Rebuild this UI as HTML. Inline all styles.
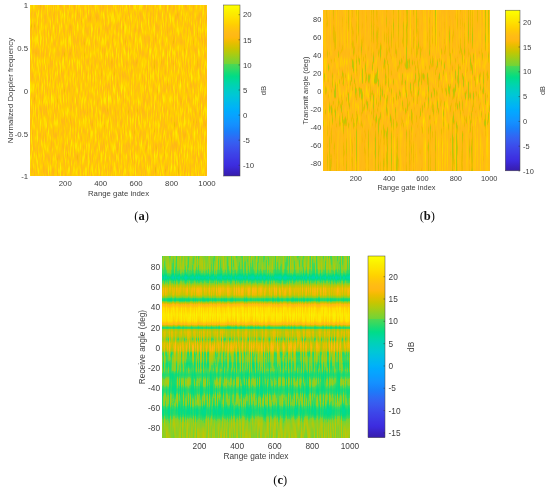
<!DOCTYPE html>
<html><head><meta charset="utf-8"><title>Figure</title>
<style>html,body{margin:0;padding:0;background:#fff}svg{display:block}text{font-family:"Liberation Sans",Arial,sans-serif;fill:#404040}</style>
</head><body>
<svg width="550" height="491" viewBox="0 0 550 491">
<defs>
<linearGradient id="pg" x1="0" y1="0" x2="0" y2="1"><stop offset="0.0000" stop-color="#feff00"/><stop offset="0.0127" stop-color="#fdfb00"/><stop offset="0.0253" stop-color="#fcf600"/><stop offset="0.0380" stop-color="#fcf000"/><stop offset="0.0506" stop-color="#fceb00"/><stop offset="0.0633" stop-color="#fde600"/><stop offset="0.0759" stop-color="#ffe000"/><stop offset="0.0886" stop-color="#ffda00"/><stop offset="0.1013" stop-color="#ffd500"/><stop offset="0.1139" stop-color="#ffcf02"/><stop offset="0.1266" stop-color="#ffc907"/><stop offset="0.1392" stop-color="#ffc40c"/><stop offset="0.1519" stop-color="#ffbf11"/><stop offset="0.1646" stop-color="#ffbb15"/><stop offset="0.1772" stop-color="#ffb915"/><stop offset="0.1899" stop-color="#ffb90e"/><stop offset="0.2025" stop-color="#f7bb06"/><stop offset="0.2152" stop-color="#edbd00"/><stop offset="0.2278" stop-color="#e2bf00"/><stop offset="0.2405" stop-color="#d7c200"/><stop offset="0.2532" stop-color="#ccc400"/><stop offset="0.2658" stop-color="#bfc705"/><stop offset="0.2785" stop-color="#b3ca0c"/><stop offset="0.2911" stop-color="#a6cc14"/><stop offset="0.3038" stop-color="#99ce1d"/><stop offset="0.3165" stop-color="#8cd026"/><stop offset="0.3291" stop-color="#80d22e"/><stop offset="0.3418" stop-color="#74d435"/><stop offset="0.3455" stop-color="#70d437"/><stop offset="0.3465" stop-color="#4ed753"/><stop offset="0.3544" stop-color="#46d857"/><stop offset="0.3671" stop-color="#39d95f"/><stop offset="0.3797" stop-color="#2bda68"/><stop offset="0.3924" stop-color="#1bdb72"/><stop offset="0.4051" stop-color="#0ddc7c"/><stop offset="0.4177" stop-color="#01dc87"/><stop offset="0.4304" stop-color="#00da92"/><stop offset="0.4430" stop-color="#00d89d"/><stop offset="0.4557" stop-color="#00d6a7"/><stop offset="0.4684" stop-color="#00d3b1"/><stop offset="0.4810" stop-color="#00d0ba"/><stop offset="0.4937" stop-color="#00cec2"/><stop offset="0.5063" stop-color="#00cbca"/><stop offset="0.5190" stop-color="#00c9d1"/><stop offset="0.5316" stop-color="#00c6d8"/><stop offset="0.5443" stop-color="#00c2de"/><stop offset="0.5570" stop-color="#00bfe4"/><stop offset="0.5696" stop-color="#00bbea"/><stop offset="0.5823" stop-color="#00b7ef"/><stop offset="0.5949" stop-color="#00b4f5"/><stop offset="0.6076" stop-color="#00b0f9"/><stop offset="0.6203" stop-color="#00abfc"/><stop offset="0.6329" stop-color="#04a7ff"/><stop offset="0.6456" stop-color="#07a3ff"/><stop offset="0.6582" stop-color="#099fff"/><stop offset="0.6709" stop-color="#0d9aff"/><stop offset="0.6835" stop-color="#1196ff"/><stop offset="0.6962" stop-color="#1491ff"/><stop offset="0.7089" stop-color="#158cfe"/><stop offset="0.7215" stop-color="#1786fc"/><stop offset="0.7342" stop-color="#1980fa"/><stop offset="0.7468" stop-color="#1e7af9"/><stop offset="0.7595" stop-color="#2474f7"/><stop offset="0.7722" stop-color="#2b6df5"/><stop offset="0.7848" stop-color="#3067f3"/><stop offset="0.7975" stop-color="#3461f2"/><stop offset="0.8101" stop-color="#375cf0"/><stop offset="0.8228" stop-color="#3957ee"/><stop offset="0.8354" stop-color="#3a51ed"/><stop offset="0.8481" stop-color="#3c4ceb"/><stop offset="0.8608" stop-color="#3c47e9"/><stop offset="0.8734" stop-color="#3d42e7"/><stop offset="0.8861" stop-color="#3d3ee6"/><stop offset="0.8987" stop-color="#3d39e4"/><stop offset="0.9114" stop-color="#3d34e2"/><stop offset="0.9241" stop-color="#3d30e1"/><stop offset="0.9367" stop-color="#3c2cdf"/><stop offset="0.9494" stop-color="#3b29d6"/><stop offset="0.9620" stop-color="#3a25cb"/><stop offset="0.9747" stop-color="#3922c0"/><stop offset="0.9873" stop-color="#381fb6"/><stop offset="1.0000" stop-color="#361dab"/></linearGradient>
<filter id="fa" x="0" y="0" width="1" height="1" color-interpolation-filters="sRGB"><feTurbulence type="fractalNoise" baseFrequency="0.7 0.085" numOctaves="2" seed="3"/><feColorMatrix type="matrix" values="1 0 0 0 0 1 0 0 0 0 1 0 0 0 0 0 0 0 0 1"/><feComponentTransfer><feFuncR type="table" tableValues="0.812 0.815 0.819 0.822 0.826 0.83 0.833 0.837 0.84 0.844 0.848 0.851 0.854 0.858 0.861 0.864 0.868 0.871 0.874 0.878 0.881 0.884 0.888 0.891 0.894 0.898 0.901 0.904 0.907 0.911 0.914 0.917 0.92 0.923 0.926 0.929 0.932 0.935 0.938 0.941 0.945 0.948 0.951 0.954 0.957 0.959 0.962 0.965 0.968 0.97 0.973 0.976 0.978 0.981 0.984 0.987 0.989 0.992 0.995 0.997 1 1 1 1 1 1 1 1 1 1 1 1 1 1 1 1 1 1 1 1 1 1 1 1 1 1 1 1 1 1 1 1 1 1 1 1 1 1 1 1 1 1 1 1 1 1 1 1 1 1 1 1 1 1 1 1 1 1 1 1 1 1 1 1 1 1 1 1 1 1 1 1 1 1 1 1 1 1 1 1 1 1 1 1 1 1 1 1 1 1 1 1 1 1 1 1 1 1 1 1 1 1 1 1 1 1 1 1 1 1 1 1 1 1 1 1 1 1 1 1 1 1 1 1 0.999 0.998 0.997 0.996 0.996 0.995 0.994 0.994 0.993 0.993 0.992 0.992 0.992 0.991 0.991 0.99 0.99 0.989 0.989 0.989 0.988 0.988 0.987 0.987 0.987 0.987 0.987 0.987 0.987 0.987 0.987 0.987 0.987 0.987 0.987 0.987 0.987 0.986 0.986 0.986 0.987 0.987 0.987 0.987 0.987 0.988 0.988 0.988 0.988 0.988 0.989 0.989 0.989 0.989 0.989 0.99 0.99 0.99 0.991 0.991 0.991 0.992 0.992 0.992 0.993 0.993 0.993 0.994 0.994 0.994 0.994 0.995"/><feFuncG type="table" tableValues="0.767 0.766 0.765 0.764 0.764 0.763 0.762 0.761 0.76 0.76 0.759 0.758 0.757 0.756 0.756 0.755 0.754 0.753 0.753 0.752 0.751 0.75 0.749 0.749 0.748 0.747 0.746 0.746 0.745 0.744 0.743 0.743 0.742 0.741 0.741 0.74 0.739 0.739 0.738 0.737 0.737 0.736 0.735 0.735 0.734 0.734 0.733 0.733 0.732 0.732 0.731 0.731 0.73 0.73 0.729 0.729 0.728 0.728 0.728 0.727 0.727 0.727 0.726 0.726 0.726 0.726 0.726 0.726 0.726 0.726 0.726 0.725 0.725 0.725 0.725 0.725 0.725 0.725 0.726 0.727 0.728 0.729 0.73 0.73 0.731 0.732 0.733 0.734 0.734 0.735 0.736 0.737 0.738 0.739 0.74 0.742 0.743 0.745 0.746 0.748 0.749 0.751 0.753 0.754 0.756 0.757 0.759 0.76 0.762 0.763 0.765 0.766 0.768 0.77 0.771 0.773 0.774 0.776 0.777 0.779 0.781 0.782 0.784 0.785 0.787 0.789 0.79 0.792 0.794 0.795 0.797 0.799 0.8 0.802 0.804 0.805 0.807 0.809 0.81 0.812 0.814 0.815 0.817 0.819 0.82 0.822 0.824 0.826 0.827 0.829 0.831 0.833 0.834 0.836 0.838 0.839 0.841 0.843 0.845 0.846 0.848 0.85 0.852 0.853 0.855 0.857 0.859 0.86 0.862 0.864 0.866 0.867 0.869 0.871 0.873 0.874 0.876 0.878 0.88 0.881 0.883 0.885 0.886 0.888 0.89 0.892 0.893 0.895 0.897 0.898 0.9 0.902 0.903 0.905 0.907 0.908 0.91 0.912 0.913 0.915 0.917 0.918 0.92 0.922 0.923 0.925 0.927 0.928 0.93 0.932 0.933 0.935 0.936 0.938 0.94 0.941 0.943 0.944 0.946 0.948 0.949 0.951 0.952 0.954 0.956 0.957 0.959 0.96 0.962 0.963 0.965 0.966 0.968 0.97 0.971 0.973 0.974 0.976 0.977 0.979 0.98 0.982 0.984 0.985 0.987 0.988 0.99 0.991 0.993 0.995 0.996 0.998 0.999 1 1 1"/><feFuncB type="table" tableValues="0 0 0 0 0 0 0 0 0 0 0 0 0 0 0 0 0 0 0 0 0 0 0 0 0 0 0 0 0 0 0 0 0 0 0 0 0.002 0.003 0.004 0.006 0.007 0.008 0.01 0.011 0.013 0.015 0.018 0.02 0.023 0.025 0.027 0.03 0.032 0.035 0.037 0.04 0.042 0.045 0.047 0.05 0.052 0.054 0.056 0.059 0.061 0.063 0.065 0.067 0.069 0.072 0.074 0.076 0.078 0.08 0.082 0.085 0.087 0.087 0.087 0.086 0.086 0.085 0.085 0.084 0.084 0.084 0.083 0.083 0.082 0.082 0.081 0.081 0.08 0.079 0.078 0.076 0.075 0.073 0.071 0.07 0.068 0.066 0.065 0.063 0.061 0.06 0.058 0.056 0.055 0.053 0.051 0.05 0.048 0.046 0.045 0.043 0.041 0.04 0.038 0.037 0.035 0.033 0.032 0.03 0.028 0.027 0.025 0.024 0.022 0.021 0.02 0.018 0.017 0.015 0.014 0.012 0.011 0.01 0.008 0.007 0.005 0.004 0.003 0.001 0 0 0 0 0 0 0 0 0 0 0 0 0 0 0 0 0 0 0 0 0 0 0 0 0 0 0 0 0 0 0 0 0 0 0 0 0 0 0 0 0 0 0 0 0 0 0 0 0 0 0 0 0 0 0 0 0 0 0 0 0 0 0 0 0 0 0 0 0 0 0 0 0 0 0 0 0 0 0 0 0 0 0 0 0 0 0 0 0 0 0 0 0 0 0 0 0 0 0 0 0 0 0 0 0 0 0 0 0 0 0 0"/></feComponentTransfer></filter>
<linearGradient id="gb" x1="0" y1="0" x2="0" y2="1"><stop offset="0" stop-color="#383838"/><stop offset="0.2" stop-color="#474747"/><stop offset="0.3" stop-color="#d8d8d8"/><stop offset="0.5" stop-color="#ffffff"/><stop offset="0.7" stop-color="#d8d8d8"/><stop offset="0.8" stop-color="#474747"/><stop offset="1" stop-color="#383838"/></linearGradient>
<filter id="fb" x="0" y="0" width="1" height="1" color-interpolation-filters="sRGB"><feTurbulence type="fractalNoise" baseFrequency="0.6 0.07" numOctaves="2" seed="7"/><feColorMatrix type="matrix" values="1 0 0 0 0 1 0 0 0 0 1 0 0 0 0 0 0 0 0 1" result="a"/><feComposite in="SourceGraphic" in2="a" operator="arithmetic" k1="1" k2="-0.5" k3="0" k4="0.5" result="r1"/><feTurbulence type="fractalNoise" baseFrequency="0.6 0.005" numOctaves="2" seed="21"/><feColorMatrix type="matrix" values="1 0 0 0 0 1 0 0 0 0 1 0 0 0 0 0 0 0 0 1" result="b"/><feComponentTransfer in="SourceGraphic" result="mi"><feFuncR type="linear" slope="-1" intercept="1.12"/><feFuncG type="linear" slope="-1" intercept="1.12"/><feFuncB type="linear" slope="-1" intercept="1.12"/></feComponentTransfer><feComposite in="mi" in2="b" operator="arithmetic" k1="1" k2="-0.5" k3="0" k4="0.5" result="r2"/><feComposite in="r1" in2="r2" operator="arithmetic" k1="0" k2="1" k3="1" k4="-0.5"/><feComponentTransfer><feFuncR type="table" tableValues="0.719 0.719 0.719 0.719 0.719 0.719 0.719 0.719 0.719 0.719 0.719 0.719 0.719 0.719 0.719 0.719 0.719 0.719 0.719 0.719 0.719 0.719 0.719 0.719 0.719 0.719 0.719 0.719 0.719 0.719 0.719 0.719 0.719 0.719 0.719 0.719 0.719 0.719 0.719 0.719 0.719 0.719 0.719 0.719 0.719 0.719 0.719 0.719 0.719 0.719 0.719 0.719 0.719 0.719 0.719 0.719 0.719 0.719 0.719 0.719 0.719 0.719 0.719 0.719 0.719 0.719 0.719 0.719 0.719 0.719 0.719 0.72 0.729 0.737 0.745 0.754 0.762 0.771 0.779 0.787 0.795 0.803 0.811 0.819 0.827 0.835 0.843 0.851 0.858 0.866 0.873 0.881 0.888 0.895 0.903 0.91 0.917 0.923 0.93 0.937 0.944 0.951 0.958 0.964 0.97 0.976 0.982 0.988 0.994 1 1 1 1 1 1 1 1 1 1 1 1 1 1 1 1 1 1 1 1 1 1 1 1 1 1 1 1 1 1 1 1 1 1 1 1 1 1 1 1 1 1 1 1 1 1 1 1 1 1 1 1 1 1 1 1 1 1 1 1 1 1 1 1 1 1 1 1 1 1 1 1 1 1 1 1 1 1 1 1 1 1 1 1 1 1 1 1 1 1 1 1 1 1 1 1 1 1 1 1 1 1 1 1 1 1 1 1 1 1 1 1 1 1 1 1 1 1 0.999 0.999 0.998 0.997 0.996 0.995 0.995 0.994 0.993 0.993 0.993 0.992 0.992 0.991 0.991 0.991 0.99 0.99 0.989 0.989 0.989 0.988 0.988 0.987 0.987 0.987 0.987 0.987 0.987"/><feFuncG type="table" tableValues="0.787 0.787 0.787 0.787 0.787 0.787 0.787 0.787 0.787 0.787 0.787 0.787 0.787 0.787 0.787 0.787 0.787 0.787 0.787 0.787 0.787 0.787 0.787 0.787 0.787 0.787 0.787 0.787 0.787 0.787 0.787 0.787 0.787 0.787 0.787 0.787 0.787 0.787 0.787 0.787 0.787 0.787 0.787 0.787 0.787 0.787 0.787 0.787 0.787 0.787 0.787 0.787 0.787 0.787 0.787 0.787 0.787 0.787 0.787 0.787 0.787 0.787 0.787 0.787 0.787 0.787 0.787 0.787 0.787 0.787 0.787 0.786 0.785 0.783 0.781 0.779 0.778 0.776 0.774 0.772 0.771 0.769 0.767 0.765 0.763 0.762 0.76 0.758 0.756 0.755 0.753 0.751 0.749 0.748 0.746 0.744 0.743 0.741 0.74 0.738 0.737 0.735 0.734 0.733 0.732 0.731 0.73 0.729 0.728 0.727 0.726 0.726 0.726 0.726 0.725 0.725 0.725 0.725 0.725 0.725 0.726 0.727 0.728 0.729 0.729 0.73 0.731 0.732 0.733 0.733 0.734 0.735 0.736 0.737 0.737 0.738 0.74 0.741 0.743 0.744 0.746 0.747 0.749 0.75 0.752 0.753 0.755 0.756 0.758 0.759 0.761 0.762 0.764 0.765 0.767 0.768 0.77 0.772 0.773 0.775 0.776 0.778 0.779 0.781 0.783 0.784 0.786 0.787 0.789 0.79 0.792 0.794 0.795 0.797 0.799 0.8 0.802 0.804 0.805 0.807 0.809 0.81 0.812 0.814 0.815 0.817 0.819 0.82 0.822 0.824 0.825 0.827 0.829 0.83 0.832 0.834 0.836 0.837 0.839 0.841 0.842 0.844 0.846 0.848 0.849 0.851 0.853 0.854 0.856 0.858 0.86 0.861 0.863 0.865 0.867 0.868 0.87 0.872 0.873 0.875 0.877 0.879 0.88 0.882 0.884 0.885 0.887 0.889 0.89 0.892 0.894 0.896 0.897 0.899 0.901 0.902 0.904 0.906 0.907 0.909 0.91 0.912 0.914 0.915 0.917 0.919 0.92 0.922 0.924 0.925 0.927 0.928 0.93 0.932 0.933 0.935"/><feFuncB type="table" tableValues="0.036 0.036 0.036 0.036 0.036 0.036 0.036 0.036 0.036 0.036 0.036 0.036 0.036 0.036 0.036 0.036 0.036 0.036 0.036 0.036 0.036 0.036 0.036 0.036 0.036 0.036 0.036 0.036 0.036 0.036 0.036 0.036 0.036 0.036 0.036 0.036 0.036 0.036 0.036 0.036 0.036 0.036 0.036 0.036 0.036 0.036 0.036 0.036 0.036 0.036 0.036 0.036 0.036 0.036 0.036 0.036 0.036 0.036 0.036 0.036 0.036 0.036 0.036 0.036 0.036 0.036 0.036 0.036 0.036 0.036 0.036 0.035 0.031 0.026 0.022 0.017 0.013 0.008 0.004 0 0 0 0 0 0 0 0 0 0 0 0 0 0 0 0 0 0 0 0.001 0.004 0.007 0.01 0.013 0.019 0.024 0.03 0.035 0.041 0.046 0.052 0.057 0.061 0.066 0.071 0.076 0.08 0.082 0.084 0.086 0.087 0.087 0.086 0.086 0.085 0.085 0.085 0.084 0.084 0.083 0.083 0.082 0.082 0.081 0.081 0.081 0.08 0.079 0.077 0.075 0.074 0.072 0.07 0.069 0.067 0.065 0.064 0.062 0.061 0.059 0.057 0.056 0.054 0.052 0.051 0.049 0.048 0.046 0.044 0.043 0.041 0.039 0.038 0.036 0.035 0.033 0.031 0.03 0.028 0.026 0.025 0.024 0.022 0.021 0.019 0.018 0.017 0.015 0.014 0.012 0.011 0.01 0.008 0.007 0.005 0.004 0.003 0.001 0 0 0 0 0 0 0 0 0 0 0 0 0 0 0 0 0 0 0 0 0 0 0 0 0 0 0 0 0 0 0 0 0 0 0 0 0 0 0 0 0 0 0 0 0 0 0 0 0 0 0 0 0 0 0 0 0 0 0 0 0 0 0 0 0 0 0 0 0"/></feComponentTransfer></filter>
<linearGradient id="gc" x1="0" y1="0" x2="0" y2="1"><stop offset="0.0000" stop-color="#ad9900"/><stop offset="0.0687" stop-color="#ad9900"/><stop offset="0.0797" stop-color="#a66d00"/><stop offset="0.0934" stop-color="#a25b00"/><stop offset="0.1044" stop-color="#995b00"/><stop offset="0.1181" stop-color="#8d5b00"/><stop offset="0.1291" stop-color="#955b00"/><stop offset="0.1374" stop-color="#a25b00"/><stop offset="0.1484" stop-color="#a86d00"/><stop offset="0.1621" stop-color="#b96d00"/><stop offset="0.1786" stop-color="#c66d00"/><stop offset="0.1923" stop-color="#c76d00"/><stop offset="0.2143" stop-color="#c16d00"/><stop offset="0.2280" stop-color="#ac4900"/><stop offset="0.2363" stop-color="#9a3700"/><stop offset="0.2445" stop-color="#9a3700"/><stop offset="0.2527" stop-color="#b04900"/><stop offset="0.2665" stop-color="#d25b00"/><stop offset="0.2857" stop-color="#e85b00"/><stop offset="0.3242" stop-color="#f05b00"/><stop offset="0.3571" stop-color="#e95b00"/><stop offset="0.3758" stop-color="#d25b00"/><stop offset="0.3846" stop-color="#b34900"/><stop offset="0.3912" stop-color="#9c3700"/><stop offset="0.3973" stop-color="#9c3700"/><stop offset="0.4038" stop-color="#b65b00"/><stop offset="0.4176" stop-color="#c06d00"/><stop offset="0.4396" stop-color="#bd8000"/><stop offset="0.4505" stop-color="#b3db00"/><stop offset="0.4588" stop-color="#b0f800"/><stop offset="0.4670" stop-color="#b6db00"/><stop offset="0.4780" stop-color="#c1b600"/><stop offset="0.5000" stop-color="#c5a400"/><stop offset="0.5192" stop-color="#bfb600"/><stop offset="0.5302" stop-color="#b1ed00"/><stop offset="0.5385" stop-color="#aced00"/><stop offset="0.5495" stop-color="#abb600"/><stop offset="0.5632" stop-color="#ada400"/><stop offset="0.5769" stop-color="#aaa400"/><stop offset="0.5907" stop-color="#a3af00"/><stop offset="0.6099" stop-color="#a3b600"/><stop offset="0.6264" stop-color="#a6b600"/><stop offset="0.6401" stop-color="#9f8000"/><stop offset="0.6538" stop-color="#994900"/><stop offset="0.6676" stop-color="#9f8000"/><stop offset="0.6813" stop-color="#a7bd00"/><stop offset="0.7033" stop-color="#a8bd00"/><stop offset="0.7170" stop-color="#a08000"/><stop offset="0.7363" stop-color="#994900"/><stop offset="0.7527" stop-color="#9d8000"/><stop offset="0.7692" stop-color="#a7bd00"/><stop offset="0.7912" stop-color="#aabd00"/><stop offset="0.8132" stop-color="#a7bd00"/><stop offset="0.8269" stop-color="#9f8000"/><stop offset="0.8462" stop-color="#974900"/><stop offset="0.8681" stop-color="#994900"/><stop offset="0.8846" stop-color="#a26d00"/><stop offset="0.9011" stop-color="#ad7800"/><stop offset="0.9231" stop-color="#b27800"/><stop offset="1.0000" stop-color="#b27800"/></linearGradient>
<filter id="fc" x="0" y="0" width="1" height="1" color-interpolation-filters="sRGB"><feColorMatrix in="SourceGraphic" type="matrix" values="1 0 0 0 0 1 0 0 0 0 1 0 0 0 0 0 0 0 0 1" result="P"/><feColorMatrix in="SourceGraphic" type="matrix" values="0 1 0 0 0 0 1 0 0 0 0 1 0 0 0 0 0 0 0 1" result="A"/><feTurbulence type="fractalNoise" baseFrequency="0.85 0.035" numOctaves="2" seed="11"/><feColorMatrix type="matrix" values="1 0 0 0 0 1 0 0 0 0 1 0 0 0 0 0 0 0 0 1"/><feComponentTransfer result="n"><feFuncR type="table" tableValues="0.001 0.002 0.002 0.002 0.003 0.004 0.005 0.006 0.007 0.008 0.010 0.013 0.016 0.020 0.024 0.030 0.036 0.044 0.054 0.066 0.081 0.098 0.118 0.142 0.170 0.202 0.238 0.278 0.323 0.371 0.421 0.474 0.526 0.579 0.629 0.677 0.722 0.762 0.798 0.830 0.858 0.882 0.902 0.919 0.934 0.946 0.956 0.964 0.970 0.976 0.980 0.984 0.987 0.990 0.992 0.993 0.994 0.995 0.996 0.997 0.998 0.998 0.998 0.999"/><feFuncG type="table" tableValues="0.001 0.002 0.002 0.002 0.003 0.004 0.005 0.006 0.007 0.008 0.010 0.013 0.016 0.020 0.024 0.030 0.036 0.044 0.054 0.066 0.081 0.098 0.118 0.142 0.170 0.202 0.238 0.278 0.323 0.371 0.421 0.474 0.526 0.579 0.629 0.677 0.722 0.762 0.798 0.830 0.858 0.882 0.902 0.919 0.934 0.946 0.956 0.964 0.970 0.976 0.980 0.984 0.987 0.990 0.992 0.993 0.994 0.995 0.996 0.997 0.998 0.998 0.998 0.999"/><feFuncB type="table" tableValues="0.001 0.002 0.002 0.002 0.003 0.004 0.005 0.006 0.007 0.008 0.010 0.013 0.016 0.020 0.024 0.030 0.036 0.044 0.054 0.066 0.081 0.098 0.118 0.142 0.170 0.202 0.238 0.278 0.323 0.371 0.421 0.474 0.526 0.579 0.629 0.677 0.722 0.762 0.798 0.830 0.858 0.882 0.902 0.919 0.934 0.946 0.956 0.964 0.970 0.976 0.980 0.984 0.987 0.990 0.992 0.993 0.994 0.995 0.996 0.997 0.998 0.998 0.998 0.999"/></feComponentTransfer><feComposite in="A" in2="n" operator="arithmetic" k1="1" k2="-0.5" k3="0" k4="0.5" result="an"/><feComposite in="P" in2="an" operator="arithmetic" k1="0" k2="1" k3="0.171569" k4="-0.0857843"/><feComponentTransfer><feFuncR type="table" tableValues="0.212 0.214 0.216 0.218 0.22 0.221 0.223 0.224 0.226 0.227 0.228 0.23 0.231 0.233 0.234 0.235 0.236 0.237 0.238 0.238 0.239 0.239 0.24 0.24 0.24 0.24 0.24 0.24 0.24 0.24 0.239 0.239 0.239 0.238 0.237 0.237 0.236 0.235 0.234 0.233 0.232 0.231 0.229 0.228 0.226 0.224 0.222 0.219 0.217 0.214 0.21 0.207 0.203 0.199 0.194 0.188 0.182 0.176 0.168 0.161 0.153 0.145 0.137 0.129 0.121 0.113 0.109 0.104 0.099 0.095 0.092 0.09 0.088 0.085 0.084 0.082 0.081 0.079 0.076 0.072 0.069 0.066 0.06 0.055 0.049 0.044 0.04 0.037 0.034 0.03 0.027 0.024 0.02 0.017 0.012 0.007 0.002 0 0 0 0 0 0 0 0 0 0 0 0 0 0 0 0 0 0 0 0 0 0 0 0 0 0 0 0 0 0 0 0 0 0 0 0 0 0 0 0 0 0 0 0 0 0 0 0 0 0 0 0 0.01 0.022 0.037 0.055 0.072 0.09 0.107 0.127 0.146 0.165 0.183 0.201 0.218 0.235 0.251 0.266 0.281 0.296 0.442 0.456 0.471 0.485 0.5 0.515 0.53 0.545 0.56 0.576 0.591 0.607 0.622 0.638 0.654 0.67 0.685 0.7 0.716 0.732 0.747 0.762 0.777 0.792 0.806 0.821 0.835 0.849 0.863 0.876 0.889 0.903 0.915 0.928 0.94 0.952 0.964 0.975 0.985 0.996 1 1 1 1 1 1 1 1 1 1 1 1 1 1 1 1 1 1 1 1 1 1 1 1 1 1 1 1 1 1 1 0.997 0.994 0.992 0.99 0.989 0.987 0.987 0.987 0.987 0.986 0.987 0.988 0.989 0.99 0.991 0.992 0.994 0.995"/><feFuncG type="table" tableValues="0.112 0.115 0.119 0.122 0.125 0.129 0.133 0.137 0.141 0.144 0.148 0.152 0.156 0.16 0.164 0.168 0.172 0.177 0.181 0.186 0.191 0.196 0.202 0.207 0.213 0.218 0.224 0.23 0.236 0.241 0.247 0.253 0.259 0.265 0.271 0.277 0.283 0.289 0.295 0.301 0.307 0.313 0.319 0.326 0.332 0.338 0.345 0.351 0.358 0.364 0.371 0.378 0.385 0.392 0.399 0.406 0.413 0.42 0.428 0.436 0.443 0.451 0.459 0.466 0.474 0.482 0.489 0.496 0.504 0.511 0.518 0.525 0.532 0.539 0.545 0.552 0.559 0.566 0.571 0.577 0.583 0.588 0.594 0.6 0.605 0.611 0.616 0.621 0.627 0.632 0.637 0.642 0.647 0.652 0.658 0.663 0.668 0.673 0.678 0.683 0.688 0.693 0.698 0.703 0.707 0.712 0.717 0.721 0.726 0.731 0.735 0.74 0.744 0.749 0.753 0.757 0.762 0.766 0.77 0.773 0.777 0.781 0.785 0.788 0.791 0.795 0.798 0.801 0.804 0.807 0.81 0.813 0.816 0.82 0.823 0.826 0.83 0.833 0.836 0.84 0.843 0.846 0.849 0.851 0.854 0.856 0.858 0.859 0.86 0.861 0.862 0.862 0.862 0.861 0.86 0.86 0.858 0.857 0.855 0.854 0.852 0.851 0.849 0.848 0.847 0.846 0.844 0.832 0.83 0.828 0.826 0.824 0.822 0.819 0.817 0.815 0.812 0.81 0.807 0.805 0.802 0.799 0.796 0.793 0.79 0.787 0.784 0.781 0.778 0.775 0.771 0.768 0.765 0.762 0.758 0.755 0.752 0.749 0.746 0.743 0.74 0.738 0.735 0.733 0.731 0.729 0.727 0.726 0.726 0.726 0.725 0.727 0.73 0.733 0.737 0.741 0.747 0.754 0.76 0.766 0.772 0.779 0.785 0.792 0.798 0.805 0.812 0.818 0.825 0.832 0.839 0.846 0.853 0.86 0.867 0.874 0.881 0.888 0.895 0.902 0.908 0.915 0.922 0.928 0.935 0.941 0.947 0.954 0.96 0.966 0.973 0.979 0.985 0.991 0.998 1"/><feFuncB type="table" tableValues="0.669 0.682 0.696 0.71 0.723 0.736 0.749 0.761 0.774 0.787 0.8 0.813 0.826 0.839 0.851 0.864 0.873 0.876 0.878 0.88 0.882 0.884 0.886 0.888 0.89 0.892 0.894 0.896 0.899 0.901 0.903 0.905 0.907 0.909 0.911 0.913 0.915 0.917 0.919 0.922 0.924 0.926 0.928 0.93 0.932 0.934 0.936 0.938 0.94 0.942 0.945 0.947 0.949 0.951 0.953 0.955 0.957 0.959 0.961 0.963 0.965 0.968 0.97 0.972 0.974 0.976 0.978 0.98 0.982 0.984 0.986 0.988 0.991 0.993 0.995 0.997 0.999 1 1 1 1 1 1 1 1 1 1 1 1 1 1 1 1 1 1 0.997 0.993 0.99 0.985 0.981 0.976 0.972 0.966 0.961 0.955 0.949 0.943 0.936 0.929 0.923 0.916 0.909 0.902 0.895 0.887 0.88 0.872 0.865 0.857 0.849 0.841 0.833 0.825 0.816 0.808 0.799 0.79 0.78 0.771 0.761 0.751 0.741 0.731 0.721 0.71 0.699 0.688 0.677 0.665 0.653 0.641 0.629 0.616 0.603 0.59 0.576 0.563 0.549 0.536 0.522 0.509 0.495 0.482 0.469 0.457 0.444 0.432 0.421 0.409 0.399 0.388 0.377 0.367 0.357 0.348 0.339 0.33 0.213 0.206 0.198 0.189 0.18 0.171 0.161 0.151 0.14 0.129 0.118 0.108 0.097 0.087 0.076 0.066 0.057 0.047 0.038 0.029 0.021 0.013 0.005 0 0 0 0 0 0 0 0 0 0 0 0.005 0.01 0.019 0.029 0.039 0.049 0.058 0.066 0.075 0.084 0.086 0.085 0.083 0.081 0.077 0.07 0.063 0.057 0.05 0.044 0.037 0.03 0.024 0.018 0.013 0.007 0.002 0 0 0 0 0 0 0 0 0 0 0 0 0 0 0 0 0 0 0 0 0 0 0 0 0 0 0 0"/></feComponentTransfer></filter>
</defs>
<rect width="550" height="491" fill="#fff"/>
<rect x="30" y="5" width="177" height="171" fill="#888" filter="url(#fa)"/>
<rect x="223.7" y="5" width="16.3" height="171" fill="url(#pg)" stroke="#444" stroke-width="0.5"/>
<line x1="238.5" y1="14.7" x2="240" y2="14.7" stroke="#333" stroke-width="0.5"/>
<text x="242.9" y="17.4924" font-size="7.8" text-anchor="start">20</text>
<line x1="238.5" y1="39.8" x2="240" y2="39.8" stroke="#333" stroke-width="0.5"/>
<text x="242.9" y="42.5924" font-size="7.8" text-anchor="start">15</text>
<line x1="238.5" y1="64.9" x2="240" y2="64.9" stroke="#333" stroke-width="0.5"/>
<text x="242.9" y="67.6924" font-size="7.8" text-anchor="start">10</text>
<line x1="238.5" y1="90" x2="240" y2="90" stroke="#333" stroke-width="0.5"/>
<text x="242.9" y="92.7924" font-size="7.8" text-anchor="start">5</text>
<line x1="238.5" y1="115.1" x2="240" y2="115.1" stroke="#333" stroke-width="0.5"/>
<text x="242.9" y="117.892" font-size="7.8" text-anchor="start">0</text>
<line x1="238.5" y1="140.2" x2="240" y2="140.2" stroke="#333" stroke-width="0.5"/>
<text x="242.9" y="142.992" font-size="7.8" text-anchor="start">-5</text>
<line x1="238.5" y1="165.3" x2="240" y2="165.3" stroke="#333" stroke-width="0.5"/>
<text x="242.9" y="168.092" font-size="7.8" text-anchor="start">-10</text>
<text x="65.2583" y="186.292" font-size="7.8" text-anchor="middle">200</text>
<text x="100.694" y="186.292" font-size="7.8" text-anchor="middle">400</text>
<text x="136.129" y="186.292" font-size="7.8" text-anchor="middle">600</text>
<text x="171.565" y="186.292" font-size="7.8" text-anchor="middle">800</text>
<text x="207" y="186.292" font-size="7.8" text-anchor="middle">1000</text>
<text x="28.1" y="8.3924" font-size="7.8" text-anchor="end">1</text>
<text x="28.1" y="51.1424" font-size="7.8" text-anchor="end">0.5</text>
<text x="28.1" y="93.8924" font-size="7.8" text-anchor="end">0</text>
<text x="28.1" y="136.642" font-size="7.8" text-anchor="end">-0.5</text>
<text x="28.1" y="179.392" font-size="7.8" text-anchor="end">-1</text>
<text x="118.5" y="195.94" font-size="7.8" text-anchor="middle">Range gate index</text>
<text x="13.34" y="90.5" font-size="7.8" text-anchor="middle" transform="rotate(-90 13.34 90.5)">Normalized Doppler frequency</text>
<text x="266.492" y="90.5" font-size="7.8" text-anchor="middle" transform="rotate(-90 266.492 90.5)">dB</text>
<text x="141.5" y="220" font-size="12.5" text-anchor="middle" style="font-family:'Liberation Serif',serif;fill:#111">(<tspan font-weight="bold">a</tspan>)</text>
<rect x="323" y="10" width="167" height="161" fill="url(#gb)" filter="url(#fb)"/>
<rect x="505.3" y="10.2" width="14.7" height="160.6" fill="url(#pg)" stroke="#444" stroke-width="0.5"/>
<line x1="518.5" y1="22.2" x2="520" y2="22.2" stroke="#333" stroke-width="0.5"/>
<text x="523.1" y="24.8492" font-size="7.4" text-anchor="start">20</text>
<line x1="518.5" y1="47" x2="520" y2="47" stroke="#333" stroke-width="0.5"/>
<text x="523.1" y="49.6492" font-size="7.4" text-anchor="start">15</text>
<line x1="518.5" y1="71.8" x2="520" y2="71.8" stroke="#333" stroke-width="0.5"/>
<text x="523.1" y="74.4492" font-size="7.4" text-anchor="start">10</text>
<line x1="518.5" y1="96.6" x2="520" y2="96.6" stroke="#333" stroke-width="0.5"/>
<text x="523.1" y="99.2492" font-size="7.4" text-anchor="start">5</text>
<line x1="518.5" y1="121.4" x2="520" y2="121.4" stroke="#333" stroke-width="0.5"/>
<text x="523.1" y="124.049" font-size="7.4" text-anchor="start">0</text>
<line x1="518.5" y1="146.2" x2="520" y2="146.2" stroke="#333" stroke-width="0.5"/>
<text x="523.1" y="148.849" font-size="7.4" text-anchor="start">-5</text>
<line x1="518.5" y1="171" x2="520" y2="171" stroke="#333" stroke-width="0.5"/>
<text x="523.1" y="173.649" font-size="7.4" text-anchor="start">-10</text>
<text x="355.8" y="181.049" font-size="7.4" text-anchor="middle">200</text>
<text x="389.133" y="181.049" font-size="7.4" text-anchor="middle">400</text>
<text x="422.467" y="181.049" font-size="7.4" text-anchor="middle">600</text>
<text x="455.8" y="181.049" font-size="7.4" text-anchor="middle">800</text>
<text x="489.133" y="181.049" font-size="7.4" text-anchor="middle">1000</text>
<text x="321.3" y="22.2492" font-size="7.4" text-anchor="end">80</text>
<text x="321.3" y="40.1617" font-size="7.4" text-anchor="end">60</text>
<text x="321.3" y="58.0742" font-size="7.4" text-anchor="end">40</text>
<text x="321.3" y="75.9867" font-size="7.4" text-anchor="end">20</text>
<text x="321.3" y="93.8992" font-size="7.4" text-anchor="end">0</text>
<text x="321.3" y="111.812" font-size="7.4" text-anchor="end">-20</text>
<text x="321.3" y="129.724" font-size="7.4" text-anchor="end">-40</text>
<text x="321.3" y="147.637" font-size="7.4" text-anchor="end">-60</text>
<text x="321.3" y="165.549" font-size="7.4" text-anchor="end">-80</text>
<text x="406.5" y="190.12" font-size="7.4" text-anchor="middle">Range gate index</text>
<text x="308.32" y="90.5" font-size="7.4" text-anchor="middle" transform="rotate(-90 308.32 90.5)">Transmit angle (deg)</text>
<text x="545.349" y="90.5" font-size="7.4" text-anchor="middle" transform="rotate(-90 545.349 90.5)">dB</text>
<text x="427.3" y="220" font-size="12.5" text-anchor="middle" style="font-family:'Liberation Serif',serif;fill:#111">(<tspan font-weight="bold">b</tspan>)</text>
<rect x="162" y="256" width="188" height="182" fill="url(#gc)" filter="url(#fc)"/>
<rect x="368" y="256" width="17" height="181.7" fill="url(#pg)" stroke="#444" stroke-width="0.5"/>
<line x1="383.5" y1="276.7" x2="385" y2="276.7" stroke="#333" stroke-width="0.5"/>
<text x="388.6" y="279.671" font-size="8.3" text-anchor="start">20</text>
<line x1="383.5" y1="299.014" x2="385" y2="299.014" stroke="#333" stroke-width="0.5"/>
<text x="388.6" y="301.986" font-size="8.3" text-anchor="start">15</text>
<line x1="383.5" y1="321.329" x2="385" y2="321.329" stroke="#333" stroke-width="0.5"/>
<text x="388.6" y="324.3" font-size="8.3" text-anchor="start">10</text>
<line x1="383.5" y1="343.643" x2="385" y2="343.643" stroke="#333" stroke-width="0.5"/>
<text x="388.6" y="346.614" font-size="8.3" text-anchor="start">5</text>
<line x1="383.5" y1="365.957" x2="385" y2="365.957" stroke="#333" stroke-width="0.5"/>
<text x="388.6" y="368.929" font-size="8.3" text-anchor="start">0</text>
<line x1="383.5" y1="388.271" x2="385" y2="388.271" stroke="#333" stroke-width="0.5"/>
<text x="388.6" y="391.243" font-size="8.3" text-anchor="start">-5</text>
<line x1="383.5" y1="410.586" x2="385" y2="410.586" stroke="#333" stroke-width="0.5"/>
<text x="388.6" y="413.557" font-size="8.3" text-anchor="start">-10</text>
<line x1="383.5" y1="432.9" x2="385" y2="432.9" stroke="#333" stroke-width="0.5"/>
<text x="388.6" y="435.871" font-size="8.3" text-anchor="start">-15</text>
<text x="199.5" y="448.771" font-size="8.3" text-anchor="middle">200</text>
<text x="237.1" y="448.771" font-size="8.3" text-anchor="middle">400</text>
<text x="274.7" y="448.771" font-size="8.3" text-anchor="middle">600</text>
<text x="312.3" y="448.771" font-size="8.3" text-anchor="middle">800</text>
<text x="349.9" y="448.771" font-size="8.3" text-anchor="middle">1000</text>
<text x="160" y="270.171" font-size="8.3" text-anchor="end">80</text>
<text x="160" y="290.309" font-size="8.3" text-anchor="end">60</text>
<text x="160" y="310.446" font-size="8.3" text-anchor="end">40</text>
<text x="160" y="330.584" font-size="8.3" text-anchor="end">20</text>
<text x="160" y="350.721" font-size="8.3" text-anchor="end">0</text>
<text x="160" y="370.859" font-size="8.3" text-anchor="end">-20</text>
<text x="160" y="390.996" font-size="8.3" text-anchor="end">-40</text>
<text x="160" y="411.134" font-size="8.3" text-anchor="end">-60</text>
<text x="160" y="431.271" font-size="8.3" text-anchor="end">-80</text>
<text x="256" y="459.29" font-size="8.3" text-anchor="middle">Range gate index</text>
<text x="145.09" y="347" font-size="8.3" text-anchor="middle" transform="rotate(-90 145.09 347)">Receive angle (deg)</text>
<text x="413.571" y="346.85" font-size="8.3" text-anchor="middle" transform="rotate(-90 413.571 346.85)">dB</text>
<text x="280.3" y="484.2" font-size="12.5" text-anchor="middle" style="font-family:'Liberation Serif',serif;fill:#111">(<tspan font-weight="bold">c</tspan>)</text>
</svg>
</body></html>
